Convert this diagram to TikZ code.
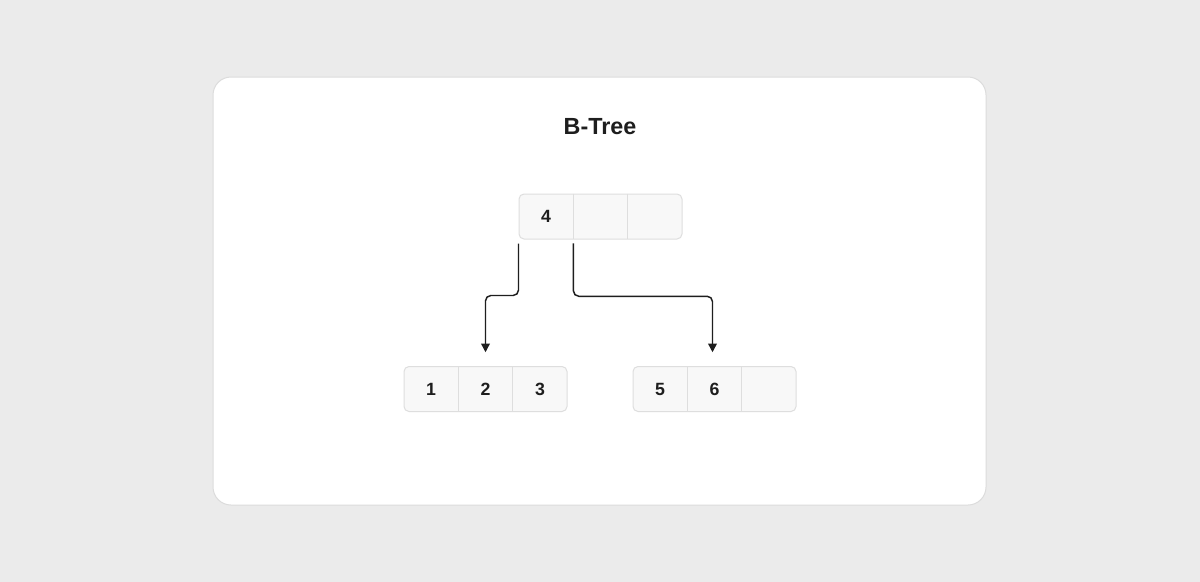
\documentclass[tikz,border=0pt]{standalone}
\usepackage{fontspec}
\setmainfont{Liberation Sans}
\usetikzlibrary{arrows.meta}
\definecolor{bgc}{HTML}{EBEBEB}
\definecolor{cardline}{HTML}{DCDCDC}
\definecolor{cellfill}{HTML}{F8F8F8}
\definecolor{cellline}{HTML}{DEDEDE}
\definecolor{ink}{HTML}{1E1E1E}
\begin{document}
\begin{tikzpicture}[x=0.75pt,y=-0.75pt,
  card/.style={draw=cardline,line width=0.75pt,fill=white,rounded corners=13.5pt},
  keynode/.style={draw=cellline,line width=0.75pt,fill=cellfill,rounded corners=3.75pt,
    minimum width=122.25pt,minimum height=33.75pt,inner sep=0pt},
  cell/.style={minimum width=40.75pt,minimum height=33.75pt,inner sep=0pt,
    text height=9.4pt,text depth=0pt,
    font=\fontsize{13.3}{15}\selectfont\bfseries,text=ink},
  divider/.style={draw=cellline,line width=0.75pt},
  title/.style={font=\fontsize{17.5}{20}\selectfont\bfseries,text=ink},
  link/.style={draw=ink,line width=1.1pt,rounded corners=4pt,
    -{Triangle[length=6.5pt,width=6.5pt]}}]
\useasboundingbox (0,0) rectangle (1200,582);
\fill[bgc] (0,0) rectangle (1200,582);
\draw[card] (213,77) rectangle (986,505);
\node[title] (ttl) at (600,127) {B-Tree};
% root
\node[keynode] (root) at (600.5,216.5) {};
\node[cell] (r1) at (546,216.5) {4};
\node[cell] (r2) at (600.5,216.5) {};
\node[cell] (r3) at (655,216.5) {};
\draw[divider] (r1.north east) -- (r1.south east);
\draw[divider] (r2.north east) -- (r2.south east);
% left leaf
\node[keynode] (ll) at (485.5,389) {};
\node[cell] (l1) at (431,389) {1};
\node[cell] (l2) at (485.5,389) {2};
\node[cell] (l3) at (540,389) {3};
\draw[divider] (l1.north east) -- (l1.south east);
\draw[divider] (l2.north east) -- (l2.south east);
% right leaf
\node[keynode] (rl) at (714.5,389) {};
\node[cell] (q1) at (660,389) {5};
\node[cell] (q2) at (714.5,389) {6};
\node[cell] (q3) at (769,389) {};
\draw[divider] (q1.north east) -- (q1.south east);
\draw[divider] (q2.north east) -- (q2.south east);
% connectors
\coordinate (s1) at ([yshift=-3pt]root.south west);
\coordinate (e1) at ([yshift=10.5pt]l2.north);
\coordinate (s2) at ([yshift=-3pt]r1.south east);
\coordinate (e2) at ([yshift=10.5pt,xshift=-1.5pt]q2.north);
\draw[link] (s1) -- ++(0,52) -| (e1);
\draw[link] (s2) -- ++(0,53) -| (e2);
\end{tikzpicture}
\end{document}
